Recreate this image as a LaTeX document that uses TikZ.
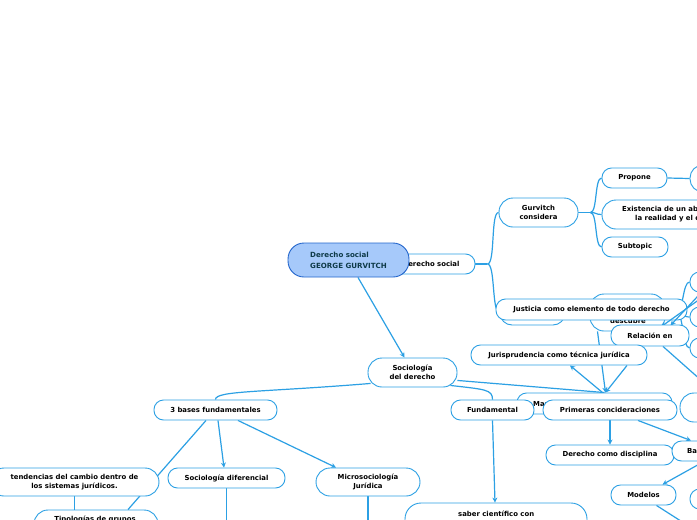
\documentclass[tikz,border=0pt]{standalone}
\usepackage{fontspec}
\setmainfont{DejaVu Sans}
\usetikzlibrary{arrows.meta,calc}
\pgfdeclarelayer{back}
\pgfdeclarelayer{bg}
\pgfsetlayers{back,bg,main}
\definecolor{mmblue}{RGB}{44,160,228}
\definecolor{rootfill}{RGB}{166,201,250}
\definecolor{rootline}{RGB}{36,102,204}
\definecolor{roottext}{RGB}{14,58,72}
\begin{document}
\begin{tikzpicture}[x=1pt,y=-1pt,
  mm/.style={draw=mmblue,line width=0.9pt,fill=white,rounded corners=#1,inner sep=0pt,align=center,
    font=\fontsize{6.9}{9.2}\selectfont\bfseries},
  mm/.default=9.5pt,
  mmtext/.style={inner sep=0pt,font=\fontsize{6.9}{9.2}\selectfont\bfseries},
  rootst/.style={draw=rootline,line width=0.9pt,fill=rootfill,rounded corners=16pt,inner sep=0pt,align=left,
    text=roottext,font=\fontsize{7.1}{11}\selectfont\bfseries},
  conn/.style={draw=mmblue,line width=1.2pt},
  arr/.style={conn,-{Stealth[length=5pt,width=5pt]}}]
\useasboundingbox (0,0) rectangle (697,520);
\begin{pgfonlayer}{back}
\fill[white] (0,0) rectangle (697,520);
\end{pgfonlayer}
\clip (0,0) rectangle (697,520);

% ---------- nodes ----------
\node[mm, minimum width=88pt, minimum height=20pt] (dsoc) at (431,264) {Derecho social};
\node[rootst, minimum width=121pt, minimum height=34pt] (root) at (348.5,260) {Derecho social\\GEORGE GURVITCH};
\node[mm=14pt, minimum width=79pt, minimum height=29pt] (gurv) at (538.5,212.5) {Gurvitch\\considera};
\node[mm, minimum width=65pt, minimum height=20pt] (prop) at (634.5,178) {Propone};
\node[mm=13pt, minimum width=70pt, minimum height=27pt] (r1) at (725,178.5) {};
\node[mm=14pt, minimum width=158pt, minimum height=29pt] (exist) at (681,214.5) {Existencia de un abismo entre\\la realidad y el derecho};
\node[mm, minimum width=66pt, minimum height=20pt] (subt) at (635,247) {Subtopic};

\node[mm=12pt, minimum width=65pt, minimum height=25pt] (hid) at (532.5,312.5) {};
\node[mm=14pt, minimum width=75pt, minimum height=37pt] (desc) at (627.5,312.5) {};
\node[mmtext] (descT) at (628,321) {descubre};
\node[mm, minimum width=191pt, minimum height=21pt] (just) at (591.5,309.5) {Justicia como elemento de todo derecho};
\node[mm, minimum width=50pt, minimum height=20pt] (c1) at (715,282) {};
\node[mm, minimum width=50pt, minimum height=20pt] (c2) at (715,317) {};
\node[mm, minimum width=50pt, minimum height=20pt] (c3) at (715,348) {};
\draw[arr] ([xshift=8pt,yshift=-4pt]c1.south west) -- ([xshift=5pt,yshift=6pt]desc.south east);
\draw[arr] ([xshift=14pt,yshift=-4pt]c1.south west) -- ([xshift=-4pt,yshift=5pt]desc.south east);
\node[mm, minimum width=78pt, minimum height=21pt] (rel) at (650,335.5) {Relación en};
\node[mm, minimum width=176pt, minimum height=20pt] (juris) at (559,355) {Jurisprudencia como técnica jurídica};

\node[mm=14pt, minimum width=89pt, minimum height=29pt] (soc) at (412.5,372.5) {Sociología\\del derecho};
\node[mm, minimum width=123pt, minimum height=20pt] (bases) at (215.5,410) {3 bases fundamentales};
\node[mm, minimum width=155pt, minimum height=21pt] (marco) at (594.5,403.5) {};
\node[mmtext, anchor=west] (marcoT) at (533,404) {Mar};
\node[mm, minimum width=83pt, minimum height=20pt] (fund) at (492.5,410) {Fundamental};
\node[mm, minimum width=134pt, minimum height=20pt] (prim) at (610,410) {Primeras concideraciones};
\node[mm=14pt, minimum width=80pt, minimum height=29pt] (r2) at (720,407.5) {};
\node[mm, minimum width=128pt, minimum height=20pt] (disc) at (610,455) {Derecho como disciplina};
\node[mm, minimum width=88pt, minimum height=20pt] (ba) at (716,451) {};
\node[mmtext, anchor=west] (baT) at (687,451) {Ba};
\node[mm, minimum width=65pt, minimum height=20pt] (mod) at (643.5,495) {Modelos};
\node[mm, minimum width=70pt, minimum height=20pt] (r3) at (725,499) {};

\node[mm=14pt, minimum width=169pt, minimum height=28pt] (tend) at (74.5,482) {tendencias del cambio dentro de\\los sistemas jurídicos.};
\node[mm, minimum width=117pt, minimum height=20pt] (sdif) at (226.5,478) {Sociología diferencial};
\node[mm=14pt, minimum width=104pt, minimum height=28pt] (micro) at (368,482) {Microsociología\\Jurídica};
\node[mm=14pt, minimum width=124pt, minimum height=30pt] (tipo) at (96,525) {};
\node[mmtext] (tipoT) at (95,519.5) {Tipologías de grupos};
\node[mm=16pt, minimum width=182pt, minimum height=40pt] (saber) at (496,523) {};
\node[mmtext, anchor=west] (saberT) at (458,514) {saber científico con};

% ---------- connectors ----------
\begin{pgfonlayer}{bg}
\clip (0,0) rectangle (697,520);
\draw[arr] ([xshift=9.5pt]root.south) -- ([xshift=-8pt]soc.north);
\draw[conn] (dsoc.east) -- ++(12,0) coordinate (j1);
\draw[conn] (j1) .. controls +(8,0) and +(-8,0) .. (gurv.west);
\draw[conn] (j1) .. controls +(8,0) and +(-8,0) .. (hid.west);
\draw[conn] (gurv.east) -- ++(12,0) coordinate (j2);
\draw[conn] (j2) .. controls +(7,0) and +(-7,0) .. (prop.west);
\draw[conn] (j2) .. controls +(6,0) and +(-6,0) .. (exist.west);
\draw[conn] (j2) .. controls +(7,0) and +(-7,0) .. (subt.west);
\draw[conn] (prop.east) -- (r1.west);
\draw[conn] (desc.east) -- ++(11,0) coordinate (j3);
\draw[conn] (j3) .. controls +(7,0) and +(-7,0) .. (c1.west);
\draw[conn] (j3) .. controls +(7,0) and +(-7,0) .. (c2.west);
\draw[conn] (j3) .. controls +(7,0) and +(-7,0) .. (c3.west);
\draw[conn] ([xshift=13pt]rel.south) -- ([xshift=-5pt]r2.north);

\draw[conn] ([xshift=3pt,yshift=4pt]soc.south west) .. controls +(-110,9) and +(0,-9) .. (bases.north);
\draw[conn] ([xshift=-7pt,yshift=2pt]soc.south east) .. controls +(35,4) and +(0,-10) .. (fund.north);
\draw[conn] ([yshift=7pt]soc.south east) -- ([xshift=10pt]marco.north);
\draw[arr] ([xshift=8pt]marco.north) -- ([xshift=11pt]juris.south);
\draw[arr] ([xshift=68pt]juris.south) -- ([xshift=11pt]marco.north);
\draw[arr] ([xshift=-30pt]desc.south) -- ([xshift=11pt]marco.north);

\draw[conn] ([xshift=-9.5pt]bases.south) -- ([xshift=32pt]tipo.north);
\draw[conn] (tend.south) -- (tend.south |- tipo.north);
\draw[arr] ([xshift=2.5pt]bases.south) -- ([xshift=-2.5pt]sdif.north);
\draw[arr] ([xshift=22.5pt]bases.south) -- ([xshift=-32pt]micro.north);
\draw[conn] (sdif.south) -- ++(0,40);
\draw[conn] (micro.south) -- ++(0,40);
\draw[arr] (fund.south) -- ([xshift=-1pt]saber.north);
\draw[arr] (prim.south) -- (disc.north);
\draw[arr] ([xshift=28pt]prim.south) -- ([xshift=-25pt]ba.north);
\draw[arr] ([xshift=-12pt]ba.south) -- ([xshift=19pt]mod.north);
\draw[conn] ([xshift=13pt]mod.south) -- ++(25,16);
\end{pgfonlayer}
\end{tikzpicture}
\end{document}
